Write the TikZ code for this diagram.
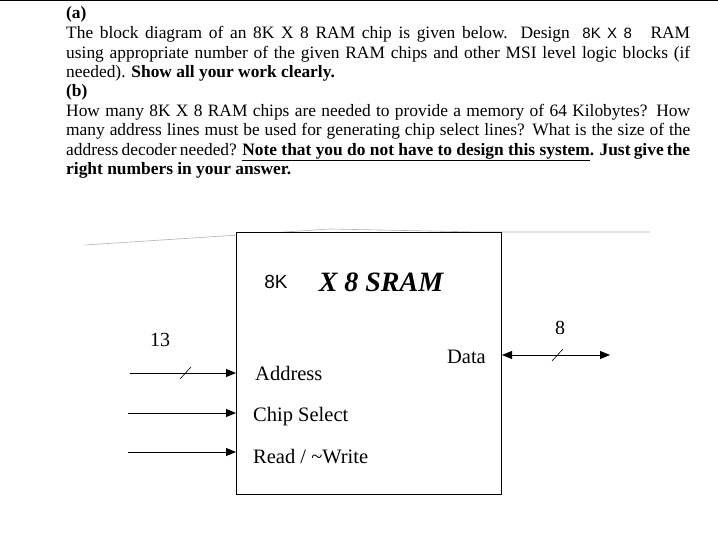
\documentclass[tikz,border=0pt]{standalone}
\usepackage{fontspec}
\setmainfont{Liberation Serif}
\setsansfont{Liberation Sans}
\usetikzlibrary{arrows.meta}
\newcommand{\fl}[1]{\makebox[624pt][s]{#1}}
\begin{document}
\begin{tikzpicture}[x=1pt,y=-1pt,
  part/.style={anchor=base west,inner sep=0,font=\fontsize{17.4}{20}\selectfont},
  sig/.style={anchor=base west,inner sep=0,font=\fontsize{20.5}{24}\selectfont},
  wire/.style={line width=1pt,-{Triangle[length=10pt,width=8pt]}},
  bus/.style={line width=0.6pt}]
\useasboundingbox (0,0) rectangle (718,546);
\fill[white] (0,0) rectangle (718,546);
\draw[line width=2pt] (0,0) -- (718,0);
\node[part] (l1) at (66,19) {\textbf{(a)}};
\node[part] (l2) at (66,38) {\fl{The block diagram of an 8K X 8 RAM chip is given below. Design {\sffamily\fontsize{15}{17}\selectfont\hspace{6pt}8K X 8\hspace{12pt}} RAM}};
\node[part] (l3) at (66,58) {\fl{using appropriate number of the given RAM chips and other MSI level logic blocks (if}};
\node[part] (l4) at (66,77) {needed). \textbf{Show all your work clearly.}};
\node[part] (l5) at (66,96) {\textbf{(b)}};
\node[part] (l6) at (66,116) {\fl{How many 8K X 8 RAM chips are needed to provide a memory of 64 Kilobytes? How}};
\node[part] (l7) at (66,135) {\fl{many address lines must be used for generating chip select lines? What is the size of the}};
\node[part] (l8) at (66,155) {\fl{address decoder needed? \textbf{\underline{Note that you do not have to design this system}.} \textbf{Just give the}}};
\node[part] (l9) at (66,174) {\textbf{right numbers in your answer.}};
\draw[gray!60,line width=0.6pt] (85,245) -- (330,229) -- (480,232) -- (650,232);
\node[draw,line width=1pt,minimum width=265pt,minimum height=262pt,inner sep=0,fill=white] (chip) at (369,363) {};
\node[inner sep=0,font=\sffamily\fontsize{19}{22}\selectfont] (k) at (276,282) {8K};
\node[inner sep=0,font=\bfseries\itshape\fontsize{28}{32}\selectfont] (t) at (381,282) {X 8 SRAM};
\node[sig] (addr) at (255,380) {Address};
\node[sig] (cs) at (253,421) {Chip Select};
\node[sig] (rw) at (253,463) {Read / \textasciitilde Write};
\node[sig,anchor=base east] (data) at (486,363) {Data};
\node[font=\fontsize{20}{22}\selectfont] (n13) at (160,340) {13};
\node[font=\fontsize{20}{22}\selectfont] (n8) at (560,328) {8};
\coordinate (a0) at (130,373); \coordinate (c0) at (128,413); \coordinate (r0) at (128,452);
\draw[wire] (a0) -- (a0 -| chip.west);
\draw[wire] (c0) -- (c0 -| chip.west);
\draw[wire] (r0) -- (r0 -| chip.west);
\draw[bus] (180,379) -- (191,367);
\coordinate (d1) at (610,355);
\draw[line width=1pt,{Triangle[length=10pt,width=8pt]}-{Triangle[length=10pt,width=8pt]}] (chip.east |- d1) -- (d1);
\draw[bus] (552,361) -- (563,349);
\end{tikzpicture}
\end{document}
